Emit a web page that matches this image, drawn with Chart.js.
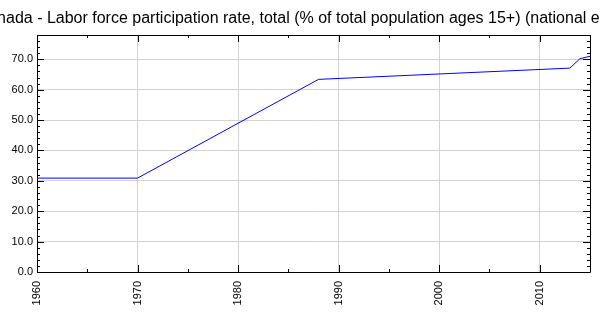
<!DOCTYPE html>
<html>
<head>
<meta charset="utf-8">
<script src="https://cdn.jsdelivr.net/npm/chart.js@4/dist/chart.umd.min.js"></script>
<style>
  html, body { margin: 0; padding: 0; background: #fff; }
  #wrap { width: 600px; height: 315px; }
</style>
</head>
<body>
<div id="wrap"><canvas id="c"></canvas></div>
<script>
// data
const titleText = 'Grenada - Labor force participation rate, total (% of total population ages 15+) (national estimate)';
const years = [1960, 1970, 1988, 2013, 2014, 2015];
const rates = [30.9, 30.9, 63.4, 67.1, 70.2, 71.0];
const xTicks = [1960, 1970, 1980, 1990, 2000, 2010];
const yTicks = [0, 10, 20, 30, 40, 50, 60, 70];

const points = years.map((y, i) => ({ x: y, y: rates[i] }));

// frame + inward ticks on all four sides
const frameTicks = {
  id: 'frameTicks',
  afterDraw(chart) {
    const { ctx, chartArea: a, scales } = chart;
    const x = scales.x, y = scales.y;
    ctx.save();
    ctx.strokeStyle = '#000';
    ctx.lineWidth = 1;
    ctx.beginPath();
    ctx.rect(Math.round(a.left) + 0.5, Math.round(a.top) + 0.5,
      Math.round(a.right - a.left), Math.round(a.bottom - a.top));
    for (let v = 1960; v <= 2015; v += 5) {
      const px = Math.round(x.getPixelForValue(v)) + 0.5;
      const len = v % 10 === 0 ? 7 : 3;
      ctx.moveTo(px, a.bottom); ctx.lineTo(px, a.bottom - len);
      ctx.moveTo(px, a.top); ctx.lineTo(px, a.top + len);
    }
    for (let v = 0; v <= 78; v += 2) {
      const py = Math.round(y.getPixelForValue(v)) + 0.5;
      const len = v % 10 === 0 ? 7 : 3;
      ctx.moveTo(a.left, py); ctx.lineTo(a.left + len, py);
      ctx.moveTo(a.right, py); ctx.lineTo(a.right - len, py);
    }
    ctx.stroke();
    ctx.restore();
  }
};

// title centred over the plot area, allowed to run off both edges
const wideTitle = {
  id: 'wideTitle',
  afterDraw(chart) {
    const { ctx, chartArea: a } = chart;
    ctx.save();
    ctx.font = '16px "Liberation Sans", Arial, sans-serif';
    ctx.fillStyle = '#000';
    ctx.textAlign = 'center';
    ctx.textBaseline = 'middle';
    ctx.fillText(titleText, (a.left + a.right) / 2, 19);
    ctx.restore();
  }
};

new Chart(document.getElementById('c'), {
  type: 'line',
  data: {
    datasets: [{
      data: points,
      borderColor: '#0000ff',
      borderWidth: 1,
      pointRadius: 0,
      tension: 0,
      fill: false
    }]
  },
  options: {
    responsive: true,
    maintainAspectRatio: false,
    animation: false,
    layout: { padding: { top: 35, right: 10, left: 0, bottom: 0 } },
    plugins: { legend: { display: false }, tooltip: { enabled: false } },
    scales: {
      x: {
        type: 'linear',
        min: 1960,
        max: 2015,
        afterBuildTicks: s => { s.ticks = xTicks.map(v => ({ value: v })); },
        afterFit: s => { s.height = 43; },
        grid: { color: '#d3d3d3', drawTicks: false },
        border: { display: false },
        ticks: {
          minRotation: 90,
          maxRotation: 90,
          padding: 9,
          color: '#000',
          font: { family: '"Liberation Sans", Arial, sans-serif', size: 11 },
          callback: v => String(v)
        }
      },
      y: {
        min: 0,
        max: 78,
        afterBuildTicks: s => { s.ticks = yTicks.map(v => ({ value: v })); },
        afterFit: s => { s.width = 37; },
        grid: { color: '#d3d3d3', drawTicks: false },
        border: { display: false },
        ticks: {
          padding: 4,
          color: '#000',
          font: { family: '"Liberation Sans", Arial, sans-serif', size: 11 },
          callback: v => v.toFixed(1)
        }
      }
    }
  },
  plugins: [frameTicks, wideTitle]
});
</script>
</body>
</html>
